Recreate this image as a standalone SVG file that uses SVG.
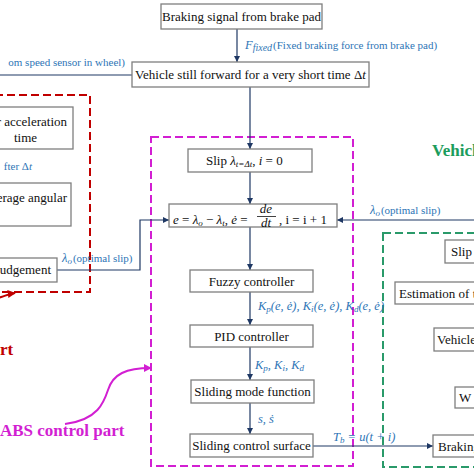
<svg xmlns="http://www.w3.org/2000/svg" width="474" height="474" viewBox="0 0 474 474">
<defs>
<marker id="ah" viewBox="0 0 10 10" refX="10" refY="5" markerWidth="6" markerHeight="6" orient="auto" markerUnits="userSpaceOnUse"><path d="M0,0 L10,5 L0,10 z" fill="#1f3864"/></marker>
<marker id="ahm" viewBox="0 0 10 10" refX="9" refY="5" markerWidth="8" markerHeight="8" orient="auto" markerUnits="userSpaceOnUse"><path d="M0,0 L10,5 L0,10 z" fill="#d21fd2"/></marker>
<marker id="ahr" viewBox="0 0 10 10" refX="9" refY="5" markerWidth="8" markerHeight="8" orient="auto" markerUnits="userSpaceOnUse"><path d="M0,0 L10,5 L0,10 z" fill="#c00000"/></marker>
</defs>
<style>
.box{fill:#fff;stroke:#7f7f7f;stroke-width:1.3}
.t{font-family:"Liberation Serif","Times New Roman",serif;font-size:13px;fill:#111}
.c{text-anchor:middle}
.lb{font-family:"Liberation Serif","Times New Roman",serif;font-size:11px;fill:#2e75b6}
.m{font-size:12.5px}
.i{font-style:italic}
.ln{fill:none;stroke:#1f3864;stroke-width:1.2}
.dash{fill:none;stroke-width:2;stroke-dasharray:8 4}
.big{font-family:"Liberation Serif","Times New Roman",serif;font-size:17px;font-weight:bold}
</style>
<rect width="474" height="474" fill="#fff"/>

<g id="regions">
<rect class="dash" x="-5" y="95" width="95" height="197" stroke="#c00000"/>
<rect class="dash" x="151" y="137" width="202" height="329" stroke="#d21fd2"/>
<rect class="dash" x="383" y="233" width="100" height="234" stroke="#2a9a6a"/>
<text class="big" x="432" y="156" fill="#1c9c5c">Vehicle</text>
<text class="big" x="0" y="355" fill="#c00000">rt</text>
<text class="big" x="0" y="436" fill="#d21fd2">ABS control part</text>
</g>

<g id="connectors">
<line class="ln" x1="237" y1="29" x2="237" y2="62" marker-end="url(#ah)"/>
<line class="ln" x1="0" y1="75" x2="132" y2="75"/>
<line class="ln" x1="250" y1="87" x2="250" y2="149" marker-end="url(#ah)"/>
<line class="ln" x1="250" y1="172" x2="250" y2="204" marker-end="url(#ah)"/>
<polyline class="ln" points="57,270 140,270 140,220 169,220" marker-end="url(#ah)"/>
<line class="ln" x1="474" y1="220" x2="337" y2="220" marker-end="url(#ah)"/>
<line class="ln" x1="250" y1="227" x2="250" y2="270" marker-end="url(#ah)"/>
<line class="ln" x1="250" y1="292" x2="250" y2="325" marker-end="url(#ah)"/>
<line class="ln" x1="250" y1="347" x2="250" y2="380" marker-end="url(#ah)"/>
<line class="ln" x1="250" y1="403" x2="250" y2="434" marker-end="url(#ah)"/>
<line class="ln" x1="313" y1="446" x2="433" y2="446" marker-end="url(#ah)"/>
<path d="M65,424 C98,420 104,402 108,390 C113,374 126,368 151,368" fill="none" stroke="#d21fd2" stroke-width="2" marker-end="url(#ahm)"/>
<path d="M-2,298 C5,296 8,294 15,293" fill="none" stroke="#c00000" stroke-width="2" marker-end="url(#ahr)"/>
<text class="lb" x="245" y="49"><tspan class="i m">F</tspan><tspan class="i" font-size="10" dy="2">fixed</tspan><tspan dy="-2" dx="1">(Fixed braking force from brake pad)</tspan></text>
<text class="lb" x="125" y="66" text-anchor="end">om speed sensor in wheel)</text>
<text class="lb" x="62" y="262"><tspan class="i m">λ</tspan><tspan class="i" font-size="9" dy="2">o</tspan><tspan dy="-2" dx="1">(optimal slip)</tspan></text>
<text class="lb" x="370" y="214"><tspan class="i m">λ</tspan><tspan class="i" font-size="9" dy="2">o</tspan><tspan dy="-2" dx="1">(optimal slip)</tspan></text>
<text class="lb i m" x="258" y="310">K<tspan font-size="9" dy="2">p</tspan><tspan dy="-2">(e, ė), K</tspan><tspan font-size="9" dy="2">i</tspan><tspan dy="-2">(e, ė), K</tspan><tspan font-size="9" dy="2">d</tspan><tspan dy="-2">(e, ė)</tspan></text>
<text class="lb i m" x="255" y="369">K<tspan font-size="9" dy="2">p</tspan><tspan dy="-2">, K</tspan><tspan font-size="9" dy="2">i</tspan><tspan dy="-2">, K</tspan><tspan font-size="9" dy="2">d</tspan></text>
<text class="lb i m" x="258" y="423">s, ṡ</text>
<text class="lb i m" x="333" y="441">T<tspan font-size="9" dy="2">b</tspan><tspan dy="-2"> = u(t + i)</tspan></text>
<text class="lb" x="32" y="170" text-anchor="end">fter Δ<tspan class="i">t</tspan></text>
</g>

<g id="n-braking-signal">
<rect class="box" x="161" y="4" width="161" height="25"/>
<text class="t c" x="241.5" y="21">Braking signal from brake pad</text>
</g>
<g id="n-vehicle-forward">
<rect class="box" x="132" y="62" width="237" height="25"/>
<text class="t c" x="250.5" y="79">Vehicle still forward for a very short time Δ<tspan class="i">t</tspan></text>
</g>
<g id="n-left-accel">
<rect class="box" x="-5" y="107" width="78" height="42"/>
<text class="t" x="67" y="126" text-anchor="end">r acceleration</text>
<text class="t" x="14" y="142">time</text>
</g>
<g id="n-left-angular">
<rect class="box" x="-5" y="183" width="76" height="43"/>
<text class="t" x="67" y="202" text-anchor="end">erage angular</text>
</g>
<g id="n-left-judgement">
<rect class="box" x="-5" y="258" width="62" height="24"/>
<text class="t" x="51" y="274" text-anchor="end">udgement</text>
</g>
<g id="n-slip">
<rect class="box" x="188" y="149" width="124" height="23"/>
<text class="t" x="206" y="165">Slip <tspan class="i">λ</tspan><tspan class="i" font-size="9" dy="2">t=Δt</tspan><tspan dy="-2">, </tspan><tspan class="i">i</tspan> = 0</text>
</g>
<g id="n-error">
<rect class="box" x="169" y="204" width="168" height="23"/>
<text class="t" x="173" y="224"><tspan class="i">e</tspan> = <tspan class="i">λ</tspan><tspan class="i" font-size="9" dy="2">o</tspan><tspan dy="-2"> − </tspan><tspan class="i">λ</tspan><tspan class="i" font-size="9" dy="2">t</tspan><tspan dy="-2">, </tspan><tspan class="i">ė</tspan> =</text>
<text class="t i c" x="266" y="213" font-size="10.5">de</text>
<line x1="257" y1="216.5" x2="276" y2="216.5" stroke="#111" stroke-width="0.8"/>
<text class="t i c" x="266" y="226.5" font-size="10.5">dt</text>
<text class="t" x="279" y="224">, i = i + 1</text>
</g>
<g id="n-fuzzy">
<rect class="box" x="190" y="270" width="123" height="22"/>
<text class="t c" x="251.5" y="286">Fuzzy controller</text>
</g>
<g id="n-pid">
<rect class="box" x="190" y="325" width="123" height="22"/>
<text class="t c" x="251.5" y="341">PID controller</text>
</g>
<g id="n-sliding-mode">
<rect class="box" x="191" y="380" width="123" height="23"/>
<text class="t c" x="252.5" y="396">Sliding mode function</text>
</g>
<g id="n-sliding-surface">
<rect class="box" x="190" y="434" width="123" height="23"/>
<text class="t c" x="251.5" y="450">Sliding control surface</text>
</g>
<g id="n-right-slip">
<rect class="box" x="445" y="240" width="40" height="23"/>
<text class="t" x="451" y="256">Slip</text>
</g>
<g id="n-right-estimation">
<rect class="box" x="395" y="282" width="90" height="22"/>
<text class="t" x="399" y="298">Estimation of t</text>
</g>
<g id="n-right-vehicle">
<rect class="box" x="434" y="328" width="50" height="23"/>
<text class="t" x="437" y="344">Vehicle</text>
</g>
<g id="n-right-w">
<rect class="box" x="455" y="387" width="30" height="21"/>
<text class="t" x="459" y="402">W</text>
</g>
<g id="n-right-braking">
<rect class="box" x="433" y="435" width="52" height="22"/>
<text class="t" x="438" y="451">Braking</text>
</g>
</svg>
